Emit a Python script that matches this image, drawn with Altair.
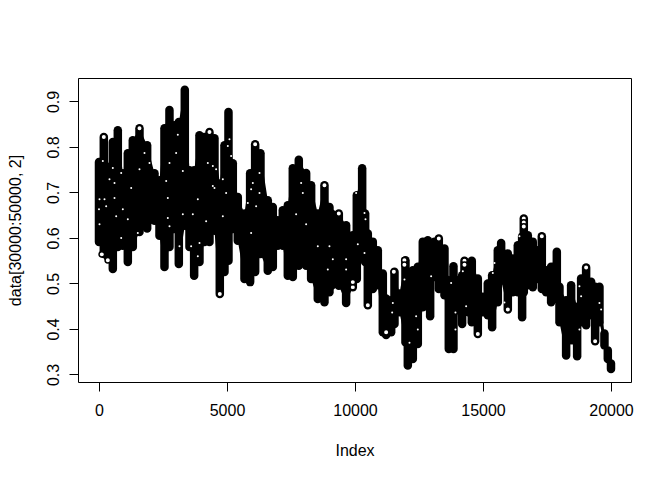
import altair as alt
import pandas as pd

index = [0,188,345,540,735,931,1126,1321,1582,1881,2168,2363,2558,2753,2949,3118,3352,3535,3717,3925,4121,4316,4511,4719,4902,5058,5227,5422,5683,5904,6100,6308,6594,6790,6985,7180,7376,7571,7805,8092,8287,8547,8808,9003,9368,9654,9914,10071,10280,10397,10501,10696,10892,11087,11217,11413,11543,11738,11972,12064,12259,12454,12649,12845,12936,13105,13274,13496,13665,13847,14017,14186,14277,14563,14798,14993,15188,15358,15579,15709,15970,16165,16360,16529,16594,16751,16946,17115,17298,17467,17662,17884,17988,18248,18443,18678,18834,19029,19225,19381,19550,19745,19876,20000]
high = [.767,.822,.756,.811,.837,.742,.786,.815,.841,.804,.742,.727,.841,.881,.848,.855,.926,.749,.749,.826,.822,.833,.819,.720,.804,.877,.764,.690,.654,.742,.806,.786,.683,.668,.639,.661,.672,.753,.772,.743,.716,.654,.716,.668,.654,.628,.606,.694,.753,.654,.610,.592,.573,.522,.467,.463,.526,.478,.551,.518,.529,.537,.592,.595,.588,.592,.599,.577,.507,.538,.507,.518,.550,.550,.511,.471,.500,.518,.573,.589,.566,.555,.584,.603,.643,.606,.592,.573,.604,.529,.537,.570,.493,.463,.496,.449,.511,.535,.504,.493,.493,.390,.353,.324]
low = [.591,.565,.558,.532,.580,.583,.547,.580,.613,.621,.638,.605,.536,.580,.620,.543,.627,.580,.517,.547,.591,.591,.616,.477,.525,.550,.620,.594,.510,.503,.525,.565,.528,.536,.583,.583,.517,.514,.539,.539,.510,.466,.459,.481,.495,.457,.492,.510,.620,.547,.452,.488,.496,.393,.387,.393,.411,.437,.371,.320,.334,.367,.448,.466,.428,.514,.488,.474,.356,.356,.441,.411,.437,.415,.389,.437,.430,.404,.459,.507,.443,.481,.481,.426,.481,.496,.492,.510,.488,.481,.459,.466,.415,.342,.375,.340,.415,.408,.430,.373,.415,.364,.334,.312]

open_index = [110,188,345,1582,4316,6100,4719,8808,9368,9914,9915,9915,11930,11930,14277,14277,16594,16594,16594,11517,17298,13274,19029,19381,14798,15970,10501,11217]
open_value = [.564,.822,.551,.841,.833,.806,.477,.716,.654,.492,.492,.503,.551,.541,.550,.541,.643,.634,.625,.526,.604,.599,.535,.373,.389,.443,.452,.393]

gap_index = [150,540,866,410,605,1257,215,20,605,0,280,931,20,671,1126,2689,2624,2689,2754,3275,3665,4186,3861,4511,4837,4251,4446,3014,2754,1582,1777,1973,1517,866,3144,3600,3926,3861,3275,3079,5943,5813,6008,6269,6269,5943,6139,7701,7896,7961,8092,8547,9003,9133,8938,9654,9654,10110,4967,4837,5032,5162,5097,4576,4446,10371,10410,10045,10371,11478,11452,11933,12389,12454,12129,12975,13756,13925,13925,14212,15384,15449,15839,16425,18769,18769,18834,19615,19550,14342]
gap_value = [.769,.754,.743,.729,.721,.710,.685,.685,.688,.663,.670,.663,.630,.648,.641,.688,.725,.644,.626,.652,.652,.637,.685,.710,.729,.765,.758,.787,.765,.751,.787,.765,.611,.600,.582,.582,.589,.560,.747,.827,.707,.677,.721,.743,.699,.611,.670,.652,.721,.699,.630,.582,.582,.553,.531,.553,.531,.586,.699,.648,.802,.780,.817,.751,.714,.655,.641,.699,.567,.457,.436,.509,.428,.399,.370,.516,.501,.436,.399,.527,.523,.545,.458,.604,.494,.399,.472,.443,.457,.450]

x_ticks = [0,5000,10000,15000,20000]
y_ticks = [0.3,0.4,0.5,0.6,0.7,0.8,0.9]

df = pd.DataFrame({"index": index, "high": high, "low": low})
df_open = pd.DataFrame({"index": open_index, "value": open_value})
df_gap = pd.DataFrame({"index": gap_index, "value": gap_value})

FONT = "Liberation Sans"
x_scale = alt.Scale(domain=[-820, 20782], nice=False, zero=False)
y_scale = alt.Scale(domain=[0.2835, 0.9516], nice=False, zero=False)

x_axis = alt.Axis(title="Index", values=x_ticks, format="d", grid=False, domain=False,
                  tickSize=9, tickColor="black", tickWidth=1, labelFont=FONT, labelFontSize=16,
                  labelColor="black", labelPadding=11, labelFlush=False, labelOverlap=False,
                  titleFont=FONT, titleFontSize=16, titleFontWeight="normal", titleColor="black",
                  titlePadding=24)
y_axis = alt.Axis(title="data[30000:50000, 2]", values=y_ticks, format=".1f", grid=False, domain=False,
                  tickSize=9, tickColor="black", tickWidth=1, labelFont=FONT, labelFontSize=16,
                  labelColor="black", labelAngle=270, labelAlign="center", labelBaseline="bottom",
                  labelPadding=8, labelOverlap=False,
                  titleFont=FONT, titleFontSize=16, titleFontWeight="normal", titleColor="black",
                  titlePadding=22)

core = alt.Chart(df).mark_area(color="black", opacity=1).encode(
    x=alt.X("index:Q", scale=x_scale, axis=x_axis),
    y=alt.Y("low:Q", scale=y_scale, axis=y_axis),
    y2="high:Q",
)
columns = alt.Chart(df).mark_rule(color="black", strokeWidth=8.5, strokeCap="round", opacity=1).encode(
    x=alt.X("index:Q", scale=x_scale),
    y=alt.Y("low:Q", scale=y_scale),
    y2="high:Q",
)
gaps = alt.Chart(df_gap).mark_point(shape="circle", filled=True, color="white", size=4, opacity=1).encode(
    x=alt.X("index:Q", scale=x_scale),
    y=alt.Y("value:Q", scale=y_scale),
)
circles = alt.Chart(df_open).mark_point(shape="circle", filled=False, fill="white", fillOpacity=1,
                                        stroke="black", strokeWidth=1.5, size=30, opacity=1).encode(
    x=alt.X("index:Q", scale=x_scale),
    y=alt.Y("value:Q", scale=y_scale),
)

chart = (core + columns + gaps + circles).properties(
    width=553, height=304, autosize="none",
    padding={"left": 70, "top": 70, "right": 33, "bottom": 90},
    view=alt.ViewBackground(stroke="black", strokeWidth=1),
).configure(background="white")

chart.save("out.html", embed_options={"renderer": "svg", "actions": False})
